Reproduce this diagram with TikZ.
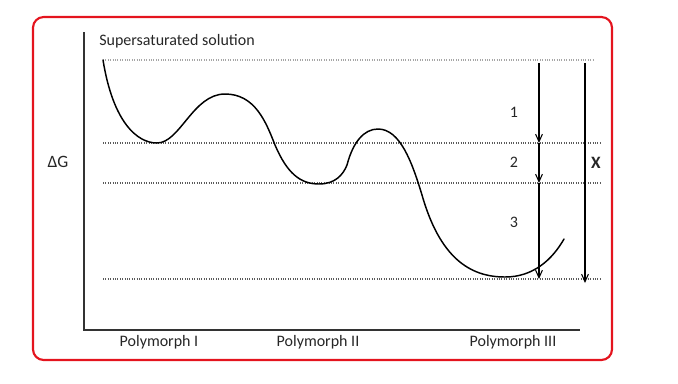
\documentclass[tikz,border=0pt]{standalone}
\usepackage{fontspec}
\setmainfont{Carlito}
\usepackage{xcolor}
\usetikzlibrary{arrows.meta}
\definecolor{FrameRed}{RGB}{228,20,30}
\definecolor{LevelGrey}{RGB}{90,90,90}
\tikzset{
  frame/.style={draw=FrameRed,line width=1.6pt,rounded corners=8pt},
  axis/.style={line width=1.3pt,black!80},
  level/.style={densely dotted,line width=0.8pt,LevelGrey},
  toplevel/.style={level,black!35},
  drop/.style={-{Straight Barb[length=2mm,width=1.8mm]},line width=0.8pt},
  energy/.style={line width=1.1pt,line cap=round},
  lbl/.style={font=\fontsize{12}{14}\selectfont,inner sep=0pt,text=black!85},
}
\begin{document}
\begin{tikzpicture}[x=0.75pt,y=-0.75pt]
  \useasboundingbox (0,0) rectangle (678,383);
  \draw[frame] (33,17) rectangle (612,360);
  % axes
  \coordinate (ytop) at (84,32);
  \coordinate (orig) at (84,330);
  \coordinate (xend) at (580,330);
  \draw[axis] (ytop)--(orig)--(xend);
  % levels
  \coordinate (l0) at (103,60);  \coordinate (r0) at (594,60);
  \coordinate (l1) at (103,143); \coordinate (r1) at (600,143);
  \coordinate (l2) at (103,183); \coordinate (r2) at (600,183);
  \coordinate (l3) at (103,279); \coordinate (r3) at (600,279);
  \draw[toplevel] (l0)--(r0);
  \draw[level] (l1)--(r1); \draw[level] (l2)--(r2); \draw[level] (l3)--(r3);
  % free energy curve
  \draw[energy] (103,60) .. controls (113,122) and (137,143) .. (157,143)
    .. controls (180,143) and (193,94) .. (225,94)
    .. controls (255,94) and (266,122) .. (275,145)
    .. controls (287,173) and (300,184) .. (319,184)
    .. controls (335,184) and (343,175) .. (347,165)
    .. controls (353,142) and (364,129) .. (378,129)
    .. controls (400,129) and (412,162) .. (422,195)
    .. controls (440,258) and (470,277) .. (505,277)
    .. controls (533,277) and (552,260) .. (564,239);
  % arrows
  \coordinate (a0) at (539,63);  \coordinate (a1) at (539,143);
  \coordinate (a2) at (539,183); \coordinate (a3) at (539,279);
  \coordinate (x0) at (585,63);  \coordinate (x1) at (585,283);
  \draw[drop] (a0)--(a1); \draw[drop] (a1)--(a2); \draw[drop] (a2)--(a3);
  \draw[drop] (x0)--(x1);
  % labels
  \node[lbl,anchor=west] (super) at (99,41) {Supersaturated solution};
  \node[lbl,font=\fontsize{13}{15}\selectfont] (dg) at (58,162) {ΔG};
  \node[lbl] (n1) at (514,112) {1};
  \node[lbl] (n2) at (514,162) {2};
  \node[lbl] (n3) at (514,222) {3};
  \node[lbl,font=\fontsize{13}{15}\selectfont\bfseries] (nx) at (596,163) {X};
  \node[lbl] (p1) at (159,342) {Polymorph I};
  \node[lbl] (p2) at (318,342) {Polymorph II};
  \node[lbl] (p3) at (513,342) {Polymorph III};
\end{tikzpicture}
\end{document}
